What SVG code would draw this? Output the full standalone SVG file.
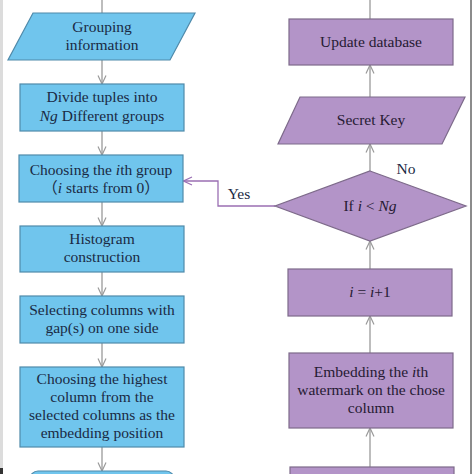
<svg xmlns="http://www.w3.org/2000/svg" width="474" height="474" viewBox="0 0 474 474">
<defs>
<marker id="ah" viewBox="0 0 10 10" refX="9.5" refY="5" markerWidth="10" markerHeight="10" markerUnits="userSpaceOnUse" orient="auto">
<path d="M1,1 L9.5,5 L1,9" fill="none" stroke="#9a9a9a" stroke-width="1.2"/>
</marker>
<marker id="ahp" viewBox="0 0 10 10" refX="9.5" refY="5" markerWidth="10" markerHeight="10" markerUnits="userSpaceOnUse" orient="auto">
<path d="M1,1 L9.5,5 L1,9" fill="none" stroke="#9a6fb3" stroke-width="1.2"/>
</marker>
</defs>
<style>
.b{fill:#70c5ed;stroke:#4f8aaa;stroke-width:1.2}
.p{fill:#b394c8;stroke:#7d6a8a;stroke-width:1.2}
.t{font-family:"Liberation Serif","Noto Sans CJK SC",serif;font-size:15.5px;text-anchor:middle}
.tb{fill:#1a2a44}
.tp{fill:#261a33}
.c{fill:none;stroke:#9a9a9a;stroke-width:1.3}
.cp{fill:none;stroke:#9a6fb3;stroke-width:1.3}
</style>
<rect x="0" y="0" width="474" height="474" fill="#ffffff"/>
<rect x="0" y="0" width="3" height="474" fill="#dcdcdc"/>
<rect x="0" y="468" width="3" height="6" fill="#333333"/>
<rect x="470" y="0" width="2" height="474" fill="#8c8c8c"/>
<g id="connectors">
<line class="c" x1="102" y1="0" x2="102" y2="13"/>
<line class="c" x1="102" y1="60" x2="102" y2="84" marker-end="url(#ah)"/>
<line class="c" x1="102" y1="131" x2="102" y2="155" marker-end="url(#ah)"/>
<line class="c" x1="102" y1="202" x2="102" y2="226" marker-end="url(#ah)"/>
<line class="c" x1="102" y1="272" x2="102" y2="296" marker-end="url(#ah)"/>
<line class="c" x1="102" y1="343" x2="102" y2="367" marker-end="url(#ah)"/>
<line class="c" x1="102" y1="447" x2="102" y2="471" marker-end="url(#ah)"/>
<line class="c" x1="370" y1="0" x2="370" y2="19"/>
<line class="c" x1="370" y1="97" x2="370" y2="65" marker-end="url(#ah)"/>
<line class="c" x1="370" y1="171" x2="370" y2="144" marker-end="url(#ah)"/>
<line class="c" x1="370" y1="269" x2="370" y2="241" marker-end="url(#ah)"/>
<line class="c" x1="370" y1="353" x2="370" y2="316" marker-end="url(#ah)"/>
<line class="c" x1="370" y1="467" x2="370" y2="428" marker-end="url(#ah)"/>
<polyline class="cp" points="275,206 218,206 218,181 183.5,181" marker-end="url(#ahp)"/>
<text class="t tb" x="239" y="199">Yes</text>
<text class="t tb" x="406" y="174">No</text>
</g>
<g id="grouping">
<polygon class="b" points="33,13 195,13 170,60 8,60"/>
<text class="t tb" x="102" y="32">Grouping</text>
<text class="t tb" x="102" y="50">information</text>
</g>
<g id="divide">
<rect class="b" x="20" y="84" width="164" height="47"/>
<text class="t tb" x="102" y="102">Divide tuples into</text>
<text class="t tb" x="102" y="121"><tspan font-style="italic">Ng</tspan> Different groups</text>
</g>
<g id="choose-group">
<rect class="b" x="19" y="155" width="164" height="47"/>
<text class="t tb" x="101" y="175">Choosing the <tspan font-style="italic">i</tspan>th group</text>
<text class="t tb" x="101" y="193">（<tspan font-style="italic">i</tspan> starts from 0）</text>
</g>
<g id="histogram">
<rect class="b" x="20" y="226" width="164" height="46"/>
<text class="t tb" x="102" y="244">Histogram</text>
<text class="t tb" x="102" y="262">construction</text>
</g>
<g id="selecting">
<rect class="b" x="20" y="296" width="164" height="47"/>
<text class="t tb" x="102" y="315">Selecting columns with</text>
<text class="t tb" x="102" y="333">gap(s) on one side</text>
</g>
<g id="highest">
<rect class="b" x="20" y="367" width="164" height="80"/>
<text class="t tb" x="102" y="384">Choosing the highest</text>
<text class="t tb" x="102" y="402">column from the</text>
<text class="t tb" x="102" y="420">selected columns as the</text>
<text class="t tb" x="102" y="438">embedding position</text>
</g>
<g id="bottom-left">
<rect class="b" x="30" y="471" width="144" height="30" rx="8"/>
</g>
<g id="update-db">
<rect class="p" x="289" y="19" width="164" height="46"/>
<text class="t tp" x="371" y="47">Update database</text>
</g>
<g id="secret-key">
<polygon class="p" points="300,97 465,97 442,144 278,144"/>
<text class="t tp" x="371" y="125">Secret Key</text>
</g>
<g id="decision">
<polygon class="p" points="370,171 466,206 370,241 275,206"/>
<text class="t tp" x="370" y="211">If <tspan font-style="italic">i</tspan> &lt; <tspan font-style="italic">Ng</tspan></text>
</g>
<g id="increment">
<rect class="p" x="288" y="269" width="164" height="47"/>
<text class="t tp" x="370" y="297"><tspan font-style="italic">i</tspan> = <tspan font-style="italic">i</tspan>+1</text>
</g>
<g id="embedding">
<rect class="p" x="289" y="353" width="164" height="75"/>
<text class="t tp" x="371" y="377">Embedding the <tspan font-style="italic">i</tspan>th</text>
<text class="t tp" x="371" y="395">watermark on the chose</text>
<text class="t tp" x="371" y="413">column</text>
</g>
<g id="bottom-right">
<rect class="p" x="290" y="467" width="164" height="30"/>
</g>
</svg>
